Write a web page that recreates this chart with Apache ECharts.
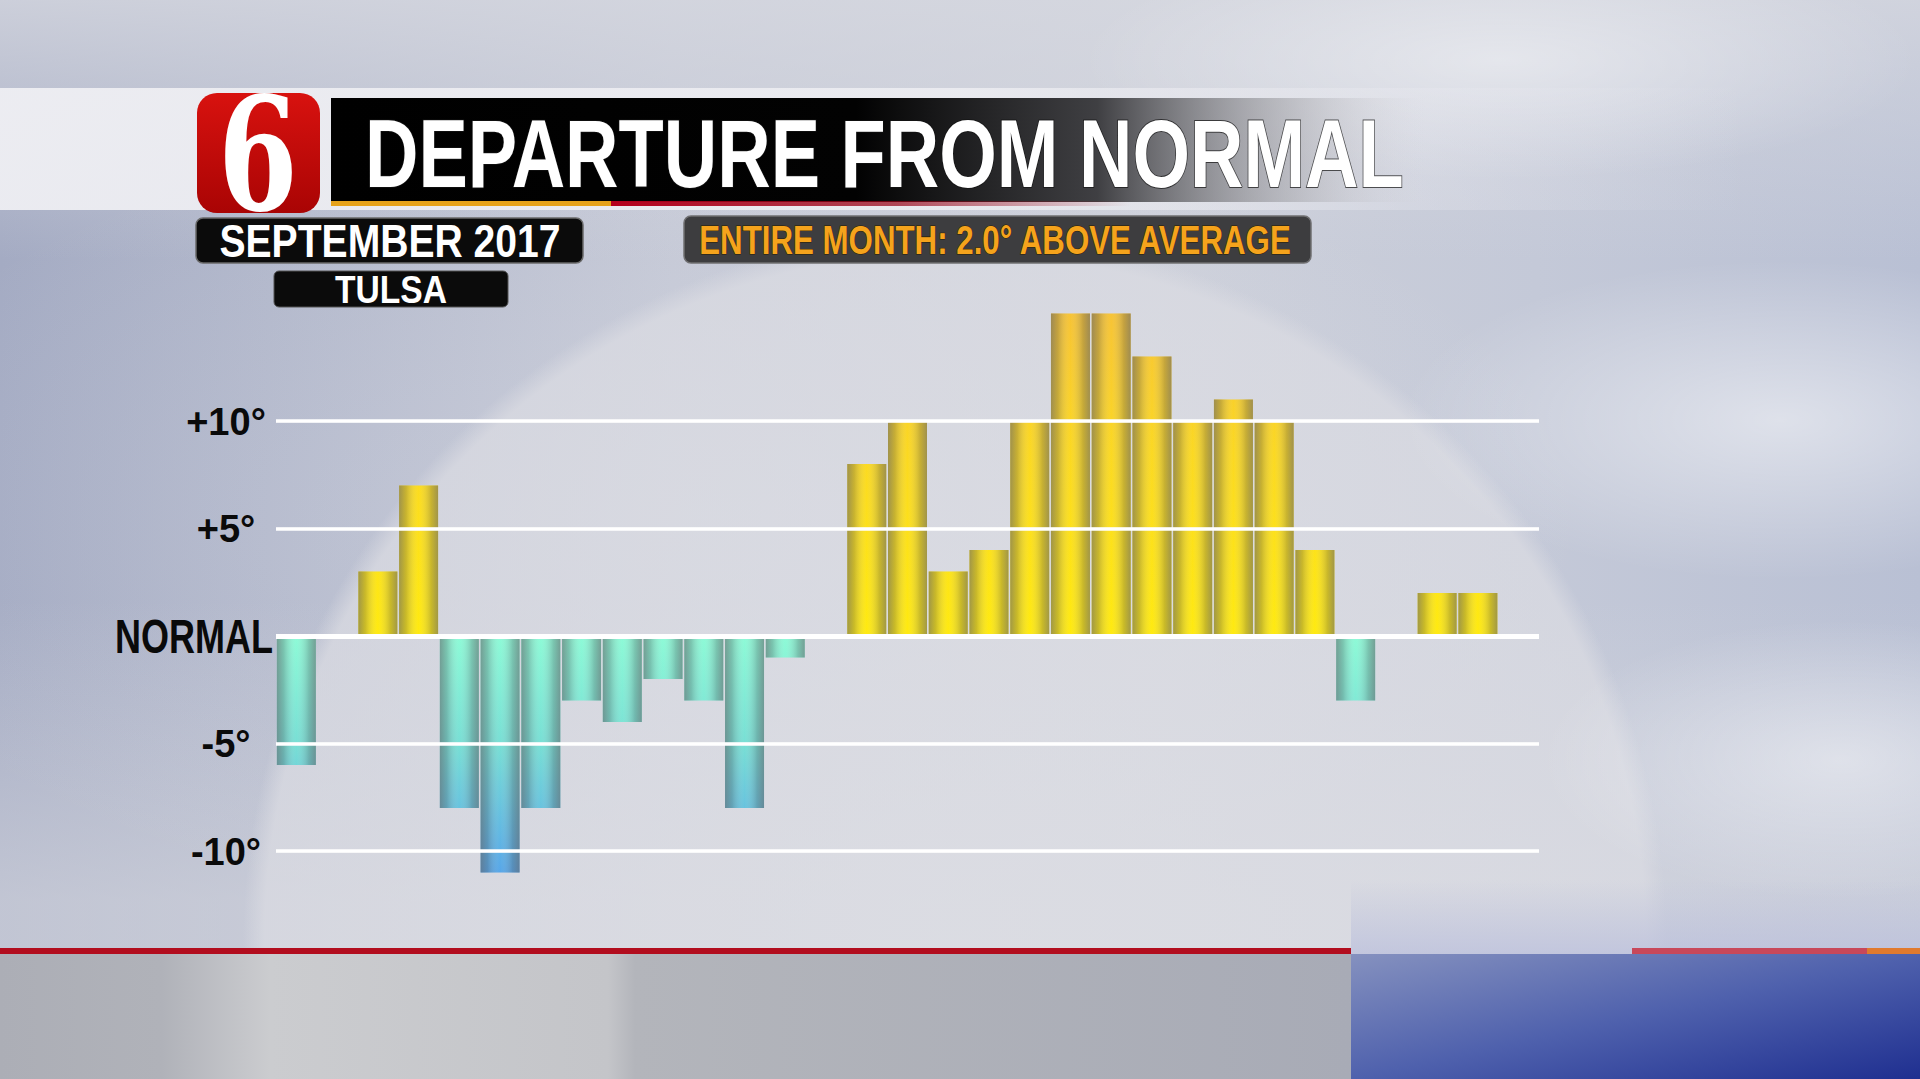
<!DOCTYPE html>
<html>
<head>
<meta charset="utf-8">
<script src="https://cdn.jsdelivr.net/npm/echarts@6/dist/echarts.min.js"></script>
<style>
html,body{margin:0;padding:0;width:1920px;height:1079px;overflow:hidden;background:#c8ccd8;}
#bg{position:absolute;left:0;top:0;width:1920px;height:1079px;
 background:
  radial-gradient(ellipse 380px 160px at 1780px 420px, rgba(255,255,255,0.5), rgba(255,255,255,0) 100%),
  radial-gradient(ellipse 300px 140px at 1840px 760px, rgba(255,255,255,0.45), rgba(255,255,255,0) 100%),
  radial-gradient(ellipse 420px 120px at 1500px 60px, rgba(255,255,255,0.45), rgba(255,255,255,0) 100%),
  radial-gradient(circle 712px at 955px 943px, rgba(221,222,228,0.8) 0, rgba(218,219,226,0.75) 97%, rgba(218,219,226,0) 100%),
  radial-gradient(ellipse 900px 420px at 700px 520px, rgba(236,236,240,0.25), rgba(236,236,240,0) 100%),
  linear-gradient(180deg, rgba(214,216,224,0.8) 0, rgba(214,216,224,0.5) 90px, rgba(214,216,224,0) 260px, rgba(0,0,0,0) 600px, rgba(218,219,225,0.55) 900px),
  linear-gradient(90deg, #a4abc3 0%, #b0b6ca 14%, #c3c7d5 35%, #cdd0da 60%, #c4c9d8 80%, #b9c0d4 100%);
}
#chart{position:absolute;left:0;top:0;width:1920px;height:1079px;}
</style>
</head>
<body>
<div id="bg"></div>
<div id="chart"></div>
<script>
// ---------------- data ----------------
const days = [1,2,3,4,5,6,7,8,9,10,11,12,13,14,15,16,17,18,19,20,21,22,23,24,25,26,27,28,29,30];
const departures = [-6,0,3,7,-8,-11,-8,-3,-4,-2,-3,-8,-1,0,8,10,3,4,10,15,15,13,10,11,10,4,-3,0,2,2];
const tickValues = [10,5,0,-5,-10];
const tickLabels = ['+10°','+5°','NORMAL','-5°','-10°'];
const titleText = 'DEPARTURE FROM NORMAL';
const monthText = 'SEPTEMBER 2017';
const cityText = 'TULSA';
const summaryText = 'ENTIRE MONTH: 2.0° ABOVE AVERAGE';
const logoText = '6';

// ---------------- helpers ----------------
const mctx = document.createElement('canvas').getContext('2d');
function fitScale(text, font, target){ mctx.font = font; return target / mctx.measureText(text).width; }
const SANS = '"Liberation Sans", Arial, sans-serif';

const chart = echarts.init(document.getElementById('chart'), null, {renderer:'svg'});
const LG = echarts.graphic.LinearGradient;

const barData = days.map((d,i)=>[d, departures[i]]);
const warmGrad = new LG(0, 636, 0, 300, [
  {offset:0, color:'#ffe900'},{offset:0.55,color:'#fbd614'},{offset:1,color:'#f6bd2a'}], true);
const coolGrad = new LG(0, 636, 0, 880, [
  {offset:0, color:'#86fad4'},{offset:0.45,color:'#6fdcd2'},{offset:1,color:'#4a9de8'}], true);
const shadeGrad = new LG(0,0,1,0,[
  {offset:0,color:'rgba(105,105,110,0.62)'},
  {offset:0.18,color:'rgba(105,105,110,0.35)'},
  {offset:0.5,color:'rgba(255,255,255,0.06)'},
  {offset:0.82,color:'rgba(105,105,110,0.35)'},
  {offset:1,color:'rgba(105,105,110,0.62)'}]);

const gridLines = tickValues.filter(v=>v!==0).map(v=>({yAxis:v}));

const option = {
  animation:false,
  grid:{left:276, top:206, width:1263, height:752.5, containLabel:false},
  xAxis:{type:'value', min:0.5, max:31.5, show:false},
  yAxis:{type:'value', min:-15, max:20, interval:5, show:false},
  series:[
    { type:'line', data:[], z:1, silent:true,
      markLine:{symbol:'none', silent:true, label:{show:false},
        emphasis:{disabled:true},
        lineStyle:{color:'#ffffff', width:3.5, type:'solid', opacity:1},
        data:gridLines}},
    { name:'base', type:'bar', data:barData, barWidth:39, z:3,
      itemStyle:{color:function(p){return p.value[1]>=0?warmGrad:coolGrad;}}},
    { name:'shade', type:'bar', data:barData, barWidth:39, barGap:'-100%', z:4,
      itemStyle:{color:shadeGrad}},
    { type:'line', data:[], z:6, silent:true,
      markLine:{symbol:'none', silent:true, label:{show:false},
        lineStyle:{color:'#ffffff', width:3, type:'solid', opacity:0.22},
        data:gridLines}},
    { type:'line', data:[], z:7, silent:true,
      markLine:{symbol:'none', silent:true, label:{show:false},
        lineStyle:{color:'#ffffff', width:5, type:'solid', opacity:1},
        data:[{yAxis:0}]}}
  ]
};
chart.setOption(option);

// ---------------- decorations & texts ----------------
const g = [];
// bottom band
g.push({type:'rect', z:0, shape:{x:0,y:954,width:1351,height:125},
  style:{fill:new LG(0,0,1,0,[{offset:0,color:'#acaeb6'},{offset:0.12,color:'#b0b2b9'},{offset:0.2,color:'#cbcccf'},{offset:0.45,color:'#c4c5c9'},{offset:0.47,color:'#b3b5bb'},{offset:1,color:'#a8abb6'}])}});
g.push({type:'rect', z:0, shape:{x:1351,y:954,width:569,height:125},
  style:{fill:new LG(0,0,1,1,[{offset:0,color:'#8591bf'},{offset:0.5,color:'#4f61ad'},{offset:1,color:'#1f2f90'}])}});
g.push({type:'rect', z:0, shape:{x:1351,y:880,width:569,height:74},
  style:{fill:new LG(0,0,0,1,[{offset:0,color:'rgba(185,190,218,0)'},{offset:1,color:'rgba(185,190,220,0.7)'}])}});
// red lines
g.push({type:'rect', z:1, shape:{x:0,y:948,width:1351,height:6}, style:{fill:'#b20d1e'}});
g.push({type:'rect', z:1, shape:{x:1632,y:948,width:235,height:6}, style:{fill:'#c8485a'}});
g.push({type:'rect', z:1, shape:{x:1867,y:948,width:53,height:6}, style:{fill:'#e07a2e'}});
// top white band
g.push({type:'rect', z:1, shape:{x:0,y:88,width:1750,height:122},
  style:{fill:new LG(0,0,1,0,[{offset:0,color:'rgba(240,240,244,0.92)'},{offset:0.55,color:'rgba(240,240,244,0.8)'},{offset:0.8,color:'rgba(236,236,242,0.3)'},{offset:1,color:'rgba(236,236,242,0)'}])}});
// title bar
g.push({type:'rect', z:2, shape:{x:331,y:98,width:1095,height:104},
  style:{fill:new LG(0,0,1,0,[{offset:0,color:'#000'},{offset:0.48,color:'#020202'},{offset:0.7,color:'rgba(45,45,48,0.9)'},{offset:0.88,color:'rgba(150,150,155,0.45)'},{offset:1,color:'rgba(210,210,215,0)'}])}});
g.push({type:'rect', z:3, shape:{x:331,y:201,width:280,height:5}, style:{fill:'#e6a21a'}});
g.push({type:'rect', z:3, shape:{x:611,y:201,width:520,height:5},
  style:{fill:new LG(0,0,1,0,[{offset:0,color:'#b5001c'},{offset:0.55,color:'rgba(150,0,20,0.7)'},{offset:1,color:'rgba(150,0,20,0)'}])}});
// logo
g.push({type:'rect', z:3, shape:{x:197,y:93,width:123,height:120,r:20},
  style:{fill:new LG(0,0,0,1,[{offset:0,color:'#d8120f'},{offset:1,color:'#a90404'}])}});
(function(){
  const f = 'bold 158px "DejaVu Serif", "Liberation Serif", serif';
  const s = fitScale(logoText, f, 80);
  g.push({type:'text', z:4, x:258, y:155, scaleX:s, scaleY:1,
    style:{text:logoText, font:f, fill:'#ffffff', align:'center', verticalAlign:'middle', textAlign:'center', textVerticalAlign:'middle'}});
})();
// title text
(function(){
  const f = 'bold 96px ' + SANS;
  const s = fitScale(titleText, f, 1039);
  g.push({type:'text', z:5, x:365, y:153, scaleX:s, scaleY:1,
    style:{text:titleText, font:f, fill:'#ffffff', stroke:'rgba(20,20,20,0.7)', lineWidth:2,
      align:'left', verticalAlign:'middle', textAlign:'left', textVerticalAlign:'middle'}});
})();
// month box
g.push({type:'rect', z:3, shape:{x:196,y:218,width:387,height:45,r:7},
  style:{fill:'#0b0b0b', stroke:'#6a6a6a', lineWidth:1.5}});
(function(){
  const f = 'bold 46px ' + SANS;
  const s = fitScale(monthText, f, 341);
  g.push({type:'text', z:5, x:390, y:241, scaleX:s, scaleY:1,
    style:{text:monthText, font:f, fill:'#ffffff', align:'center', verticalAlign:'middle', textAlign:'center', textVerticalAlign:'middle'}});
})();
// city box
g.push({type:'rect', z:3, shape:{x:274,y:271,width:234,height:36,r:5},
  style:{fill:'#0b0b0b', stroke:'#555', lineWidth:1}});
(function(){
  const f = 'bold 39px ' + SANS;
  const s = fitScale(cityText, f, 112);
  g.push({type:'text', z:5, x:391, y:290, scaleX:s, scaleY:1,
    style:{text:cityText, font:f, fill:'#ffffff', align:'center', verticalAlign:'middle', textAlign:'center', textVerticalAlign:'middle'}});
})();
// summary box
g.push({type:'rect', z:3, shape:{x:684,y:216,width:627,height:47,r:7},
  style:{fill:'#3d3d3f', stroke:'#707072', lineWidth:1.5}});
(function(){
  const f = 'bold 40px ' + SANS;
  const s = fitScale(summaryText, f, 594);
  g.push({type:'text', z:5, x:995, y:241, scaleX:s, scaleY:1,
    style:{text:summaryText, font:f, fill:'#f5a31c', stroke:'#2a1e00', lineWidth:1,
      align:'center', verticalAlign:'middle', textAlign:'center', textVerticalAlign:'middle'}});
})();
// y-axis tick labels, positioned through the value axis
tickValues.forEach(function(v,i){
  const py = chart.convertToPixel({yAxisIndex:0}, v);
  const label = tickLabels[i];
  if (v === 0) {
    const f = 'bold 48px ' + SANS;
    const s = fitScale(label, f, 158);
    g.push({type:'text', z:5, x:273, y:py+1, scaleX:s, scaleY:1,
      style:{text:label, font:f, fill:'#0a0a0a', align:'right', verticalAlign:'middle', textAlign:'right', textVerticalAlign:'middle'}});
  } else {
    const f = 'bold 38px ' + SANS;
    g.push({type:'text', z:5, x:226, y:py+0.5,
      style:{text:label, font:f, fill:'#0a0a0a', align:'center', verticalAlign:'middle', textAlign:'center', textVerticalAlign:'middle'}});
  }
});
chart.setOption({graphic:{elements:g}});
</script>
</body>
</html>
